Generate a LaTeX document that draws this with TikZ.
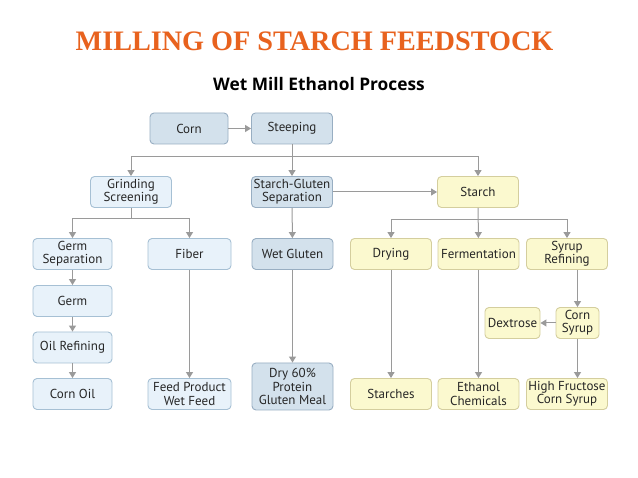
\documentclass[tikz,border=0pt]{standalone}
\usepackage{fontspec}
\setmainfont{PT Sans}
\newfontfamily\titlefont{Liberation Serif}
\newfontfamily\subfont{Open Sans}
\usetikzlibrary{arrows.meta}
\definecolor{dbfill}{HTML}{D3E1EC}
\definecolor{dbdraw}{HTML}{98AEC2}
\definecolor{lbfill}{HTML}{E8F2FA}
\definecolor{lbdraw}{HTML}{A6C0D4}
\definecolor{yfill}{HTML}{FBF9CF}
\definecolor{ydraw}{HTML}{D4CE9E}
\definecolor{lnc}{HTML}{9A9A9A}
\definecolor{ttl}{HTML}{E8621E}
\tikzset{
  box/.style={draw, line width=0.9pt, rounded corners=4pt, align=center, inner sep=0.5pt,
     font=\fontsize{13}{13.3}\selectfont, text=black!85, minimum width=81pt, minimum height=31pt},
  dbox/.style={box, fill=dbfill, draw=dbdraw},
  lbox/.style={box, fill=lbfill, draw=lbdraw},
  ybox/.style={box, fill=yfill, draw=ydraw},
  con/.style={draw=lnc, line width=1pt},
  arr/.style={con, -{Triangle[length=6pt,width=7pt]}},
}
\begin{document}
\begin{tikzpicture}[x=1pt,y=-1pt]
\fill[white] (0,0) rectangle (638,478);
\useasboundingbox (0,0) rectangle (638,478);
\node[font=\titlefont\bfseries\fontsize{28.2}{30}\selectfont, text=ttl] (title) at (314.5,41) {MILLING OF STARCH FEEDSTOCK};
\node[font=\subfont\bfseries\fontsize{17.3}{19}\selectfont] (sub) at (319,84) {Wet Mill Ethanol Process};
% nodes
\node[dbox, minimum width=78pt] (corn) at (189,128.5) {Corn};
\node[dbox] (steep) at (292,128.5) {Steeping};
\node[lbox] (grind) at (131,192) {Grinding\\Screening};
\node[dbox] (sgs) at (292,192) {Starch-Gluten\\Separation};
\node[ybox] (starch) at (478,192) {Starch};
\node[lbox, minimum width=79pt] (germsep) at (72.5,254) {Germ\\Separation};
\node[lbox, minimum width=83pt] (fiber) at (189.5,254) {Fiber};
\node[dbox] (wetg) at (292.5,254) {Wet Gluten};
\node[ybox] (dry) at (391,254) {Drying};
\node[ybox] (ferm) at (478.5,254) {Fermentation};
\node[ybox] (syrup) at (567,254) {Syrup\\Refining};
\node[lbox, minimum width=79pt] (germ) at (72.5,301) {Germ};
\node[lbox, minimum width=79pt] (oil) at (72.5,347.5) {Oil Refining};
\node[lbox, minimum width=79pt] (cornoil) at (72.5,394) {Corn Oil};
\node[lbox, minimum width=83pt] (feed) at (189.5,394) {Feed Product\\Wet Feed};
\node[dbox, minimum height=47pt] (dry60) at (292.5,386.5) {Dry 60\%\\Protein\\Gluten Meal};
\node[ybox] (starches) at (391,394) {Starches};
\node[ybox] (eth) at (478.5,394) {Ethanol\\Chemicals};
\node[ybox] (hfcs) at (567,394) {High Fructose\\Corn Syrup};
\node[ybox, minimum width=43pt] (csyrup) at (577.5,323) {Corn\\Syrup};
\node[ybox, minimum width=55pt] (dex) at (512.5,323) {Dextrose};
% junctions
\coordinate (j1) at (292,157);
\coordinate (j2) at (131,219);
\coordinate (j3) at (478,220);
% connectors
\draw[arr] (corn) -- (steep);
\draw[arr] (steep) -- (sgs);
\draw[con] (steep.south) -- (j1);
\draw[arr] (j1) -| (grind.north);
\draw[arr] (j1) -| (starch.north);
\draw[arr] (sgs) -- (starch);
\draw[arr] (sgs) -- (wetg);
\draw[arr] (wetg) -- (dry60);
\draw[con] (grind.south) -- (j2);
\draw[arr] (j2) -| (germsep.north);
\draw[arr] (j2) -| (fiber.north);
\draw[arr] (germsep) -- (germ);
\draw[arr] (germ) -- (oil);
\draw[arr] (oil) -- (cornoil);
\draw[arr] (fiber) -- (feed);
\draw[arr] (starch) -- (ferm);
\draw[arr] (j3) -| (dry.north);
\draw[arr] (j3) -| (syrup.north);
\draw[arr] (dry) -- (starches);
\draw[arr] (ferm) -- (eth);
\draw[arr] (syrup.south -| csyrup.north) -- (csyrup.north);
\draw[arr] (csyrup) -- (dex);
\draw[arr] (csyrup) -- (hfcs.north -| csyrup.south);
\end{tikzpicture}
\end{document}
